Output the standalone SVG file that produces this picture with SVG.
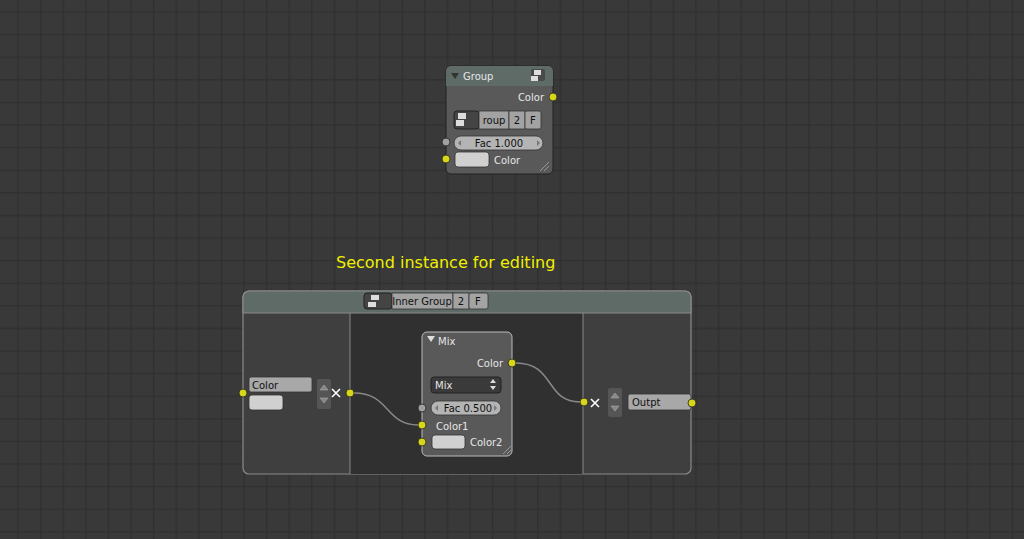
<svg xmlns="http://www.w3.org/2000/svg" width="1024" height="539" viewBox="0 0 1024 539">
<defs>
<pattern id="grid" width="22.6" height="22.6" patternUnits="userSpaceOnUse" x="17.3" y="11.3">
<rect width="22.6" height="22.6" fill="#393939"/>
<path d="M0 0.75H22.6M0.75 0V22.6" stroke="#303030" stroke-width="1.5" fill="none"/>
</pattern>
</defs>
<style>
text{font-family:"DejaVu Sans",sans-serif;font-size:10px;fill:#e6e6e6}
.dk{fill:#111}
.node{fill:#595959;stroke:#222;stroke-width:1}
.btn{fill:#a3a3a3;stroke:#333;stroke-width:0.8}
.sw{fill:#d0d0d0;stroke:#333;stroke-width:0.8}
.ys{fill:#d6d61a;stroke:#222;stroke-width:0.8}
.gs{fill:#a0a0a0;stroke:#222;stroke-width:0.8}
.wire{fill:none;stroke:#888;stroke-width:1.5}
.x{stroke:#fff;stroke-width:1.6}
</style>
<rect width="1024" height="539" fill="url(#grid)"/>
<g id="group-node">
<rect x="446" y="66" width="107" height="108" rx="5" class="node"/>
<path d="M451 66h97a5 5 0 0 1 5 5v15h-107v-15a5 5 0 0 1 5 -5z" fill="#5e6b66"/>
<path d="M451 73l4 6l4 -6z" fill="#333"/>
<text x="463" y="80">Group</text>
<rect x="531" y="69" width="14" height="12" rx="2" fill="#4a4a4a"/>
<rect x="534" y="70" width="7" height="5" fill="#ddd"/><rect x="531" y="76" width="7" height="5" fill="#ddd"/>
<text x="544" y="101" text-anchor="end">Color</text>
<rect x="454" y="111" width="25" height="18" rx="3" fill="#444" stroke="#222"/>
<rect x="458" y="113" width="8" height="6" fill="#ddd"/><rect x="456" y="120" width="8" height="6" fill="#ddd"/>
<rect x="479" y="111" width="30" height="18" class="btn"/><text x="494" y="124" text-anchor="middle" class="dk">roup</text>
<rect x="509" y="111" width="16" height="18" class="btn"/><text x="517" y="124" text-anchor="middle" class="dk">2</text>
<rect x="525" y="111" width="16" height="18" rx="2" class="btn"/><text x="533" y="124" text-anchor="middle" class="dk">F</text>
<rect x="454" y="136" width="89" height="14" rx="7" fill="#b4b4b4" stroke="#333" stroke-width="0.8"/>
<text x="499" y="147" text-anchor="middle" class="dk">Fac 1.000</text>
<path d="M461 140l-3 3l3 3zM537 140l3 3l-3 3z" fill="#777"/>
<rect x="455" y="152" width="34" height="15" rx="3" class="sw"/>
<text x="494" y="164">Color</text>
<path d="M540 171l9 -9M544 171l5 -5" stroke="#999"/>
<circle cx="553" cy="97" r="4" class="ys"/>
<circle cx="446" cy="142" r="4" class="gs"/>
<circle cx="446" cy="159" r="4" class="ys"/>
</g>
<text x="336" y="268" style="font-size:16px;fill:#f0f000;font-weight:500">Second instance for editing</text>
<g id="frame">
<rect x="243" y="291" width="448" height="183" rx="6" fill="#3f3f3f" stroke="#8a8a8a" stroke-width="1.2"/>
<rect x="350" y="313" width="233" height="161" fill="#303030"/>
<path d="M249 291h436a6 6 0 0 1 6 6v16h-448v-16a6 6 0 0 1 6 -6z" fill="#5e6b66" stroke="#8a8a8a" stroke-width="1.2"/>
<path d="M350 313V474M583 313V474" stroke="#888" stroke-width="1"/>
<rect x="364" y="293" width="28" height="16" rx="3" fill="#444" stroke="#222"/>
<rect x="371" y="295" width="8" height="5" fill="#ddd"/><rect x="368" y="302" width="8" height="5" fill="#ddd"/>
<rect x="392" y="293" width="61" height="16" class="btn"/><text x="422" y="305" text-anchor="middle" class="dk">Inner Group</text>
<rect x="453" y="293" width="16" height="16" class="btn"/><text x="461" y="305" text-anchor="middle" class="dk">2</text>
<rect x="469" y="293" width="19" height="16" rx="2" class="btn"/><text x="478" y="305" text-anchor="middle" class="dk">F</text>
</g>
<g id="group-input">
<rect x="249" y="377" width="63" height="15" rx="2" fill="#a8a8a8" stroke="#333" stroke-width="0.8"/>
<text x="252" y="389" class="dk">Color</text>
<rect x="249" y="395" width="34" height="15" rx="3" class="sw"/>
<rect x="317" y="379" width="14" height="30" rx="2" fill="#555"/>
<path d="M320 390l4 -5l4 5zM320 398l4 5l4 -5z" fill="#888" stroke="#aaa" stroke-width="0.6"/>
<path d="M332 389l8 8M340 389l-8 8" class="x"/>
<circle cx="243" cy="393" r="4" class="ys"/>
<circle cx="350" cy="393" r="4" class="ys"/>
</g>
<g id="mix-node">
<rect x="422" y="332" width="90" height="124" rx="5" fill="#595959" stroke="#bbb" stroke-width="1"/>
<path d="M427 336l4 6l4 -6z" fill="#ddd"/>
<text x="438" y="345">Mix</text>
<text x="503" y="367" text-anchor="end">Color</text>
<rect x="431" y="377" width="70" height="16" rx="3" fill="#3a3a3a" stroke="#222"/>
<text x="435" y="389">Mix</text>
<path d="M490 383l3 -4l3 4zM490 386l3 4l3 -4z" fill="#ddd"/>
<rect x="431" y="401" width="70" height="14" rx="7" fill="#b4b4b4" stroke="#333" stroke-width="0.8"/>
<path d="M438 405l-3 3l3 3zM494 405l3 3l-3 3z" fill="#777"/>
<text x="468" y="412" text-anchor="middle" class="dk">Fac 0.500</text>
<text x="436" y="430">Color1</text>
<rect x="432" y="435" width="33" height="14" rx="3" class="sw"/>
<text x="470" y="446">Color2</text>
<path d="M503 454l8 -8M507 454l4 -4" stroke="#999"/>
<circle cx="512" cy="363" r="4" class="ys"/>
<circle cx="422" cy="408" r="4" class="gs"/>
<circle cx="422" cy="425" r="4" class="ys"/>
<circle cx="422" cy="442" r="4" class="ys"/>
</g>
<g id="group-output">
<rect x="608" y="388" width="14" height="29" rx="2" fill="#555"/>
<path d="M611 398l4 -5l4 5zM611 406l4 5l4 -5z" fill="#888" stroke="#aaa" stroke-width="0.6"/>
<path d="M591 399l8 8M599 399l-8 8" class="x"/>
<rect x="628" y="394" width="63" height="16" rx="2" fill="#a8a8a8" stroke="#333" stroke-width="0.8"/>
<text x="632" y="406" class="dk">Outpt</text>
<circle cx="584" cy="402" r="4" class="ys"/>
<circle cx="692" cy="403" r="4" class="ys"/>
</g>
<g id="connectors">
<path d="M354 393C390 393 385 425 418 425" class="wire"/>
<path d="M516 363C555 363 545 402 580 402" class="wire"/>
</g>
</svg>
